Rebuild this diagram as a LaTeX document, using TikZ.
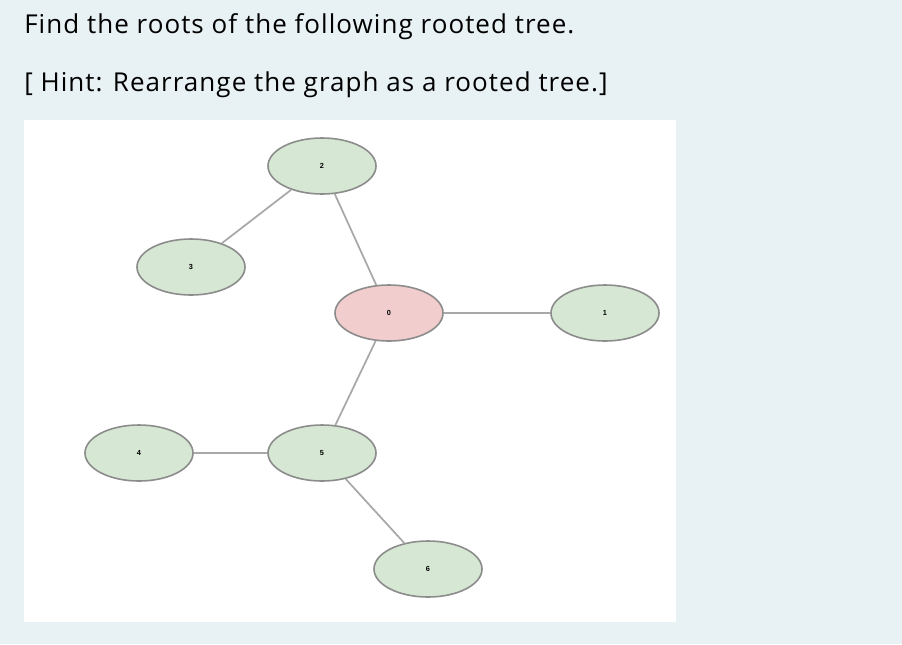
\documentclass[tikz,border=0pt]{standalone}
\usepackage{fontspec}
\setmainfont{Open Sans}
\newfontfamily\ttlfont[LetterSpace=4]{Open Sans}
\newfontfamily\lab{Liberation Sans}
\usetikzlibrary{shapes.geometric}
\definecolor{bg}{HTML}{E8F1F4}
\definecolor{gn}{HTML}{D6E8D3}
\definecolor{pk}{HTML}{F2CDCD}
\definecolor{ed}{HTML}{A8A8A8}
\begin{document}
\begin{tikzpicture}[x=0.75pt,y=-0.75pt,
  vtx/.style={ellipse,draw=black!45,line width=1.2pt,fill=gn,minimum width=81pt,minimum height=42pt,inner sep=0pt,font=\lab\fontsize{5.5}{6}\selectfont\bfseries},
  edge/.style={draw=ed,line width=1.3pt},
  ttl/.style={anchor=west,font=\ttlfont\fontsize{19.5}{22}\selectfont,inner sep=0pt}]
\fill[bg] (0,0) rectangle (902,644);
\fill[white] (24,120) rectangle (676,622);
\node[ttl] (t1) at (24,27) {Find the roots of the following rooted tree.};
\node[ttl] (t2) at (24,85) {[ Hint: Rearrange the graph as a rooted tree.]};
\node[vtx] (n2) at (322,166) {2};
\node[vtx] (n3) at (191,267) {3};
\node[vtx,fill=pk] (n0) at (389,313) {0};
\node[vtx] (n1) at (605,313) {1};
\node[vtx] (n4) at (139,453) {4};
\node[vtx] (n5) at (322,453) {5};
\node[vtx] (n6) at (428,569) {6};
\draw[edge] (n2) -- (n3);
\draw[edge] (n2) -- (n0);
\draw[edge] (n0) -- (n1);
\draw[edge] (n0) -- (n5);
\draw[edge] (n5) -- (n4);
\draw[edge] (n5) -- (n6);
\end{tikzpicture}
\end{document}
